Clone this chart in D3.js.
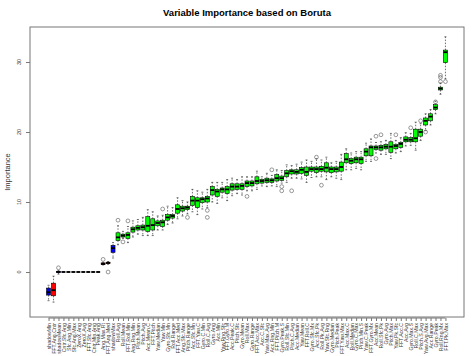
<!DOCTYPE html>
<html>
<head>
<meta charset="utf-8">
<script src="https://cdn.jsdelivr.net/npm/d3@7"></script>
<style>
  body { margin: 0; background: #fff; }
  svg { display: block; font-family: "Liberation Sans", Arial, sans-serif; }
</style>
</head>
<body>
<svg id="chart" width="474" height="356"></svg>
<script>
// attribute names, sorted by median importance
var names = [
  "shadowMin", "FFT.Ang.Cntr", "shadowMean", "Cntr.Sfc.Ang", "Sfc.Ang.Min", "Sfc.Ang.Max",
  "ZeroX.Ang", "ZeroX.Avg", "FFT.Sfc.Ang", "Cntr.Min.Ang", "Peak.Ang",
  "Ang.Max.Rt", "FFT.Ang.Med", "shadowMax", "Roll.Avg", "Roll.Mean", "FFT.Roll.Min",
  "Ang.Rng.Min", "Pitch.Mean", "Pitch.Avg", "Acc.Mean.C", "FFT.Pitch", "Yaw.Median",
  "Yaw.Min", "Gyro.Sfc.Mn", "Roll.Range", "FFT.Acc.Med", "Ang.Sfc.Max", "Pitch.Range",
  "Acc.Sfc.Mn", "FFT.Yaw.C", "Gyro.C.Min", "Roll.C.Avg", "Gyro.Ang", "Acc.Min",
  "Yaw.Rng.Sfc", "FFT.Gyro.M", "Acc.Peak.C", "Pitch.Sfc", "Gyro.Mean", "Roll.Max",
  "Gyro.Range", "FFT.Acc.Max", "Acc.C.Sfc", "Yaw.Max.Avg", "Acc.Rng.Min", "FFT.Pitch.M",
  "Gyro.Peak.S", "Roll.Sfc.Min", "Pitch.C.Avg", "Acc.Median", "Yaw.Mean", "FFT.Roll.C",
  "Gyro.Sfc.Mx", "Acc.Sfc.Pk", "Roll.Pk.Avg", "Yaw.Sfc.Rng", "Gyro.Median", "Pitch.Peak",
  "FFT.Yaw.Max", "Acc.Max.C", "Roll.Median", "Gyro.C.Max", "Pitch.Min.S", "Yaw.C.Peak",
  "FFT.Gyro.Mx", "Acc.Mean", "Roll.Sfc.Pk", "Gyro.Avg", "Pitch.Max", "Yaw.Pk.Sfc",
  "FFT.Acc.C", "Acc.Avg", "Gyro.Max.S", "Roll.C.Max", "Pitch.S.Avg", "Yaw.Avg.Max",
  "Acc.Range", "Gyro.Peak", "Roll.Rng.Mx", "FFT.Pk.Max"
];

// decision per attribute: S shadow, R rejected, C confirmed
var decision = ["S", "R", "S", "R", "R", "R", "R", "R", "R", "R", "R", "R", "R", "S"]
  .concat(d3.range(67).map(function () { return "C"; }));

var median = [-2.9, -2.6, 0, 0, 0, 0, 0, 0, 0, 0, 0, 1.15, 1.3, 3.4,
  4.95, 5.2, 5.3, 6.1, 6.3, 6.4, 6.6, 6.7, 7.0, 7.1, 7.8, 8.0, 9.0, 9.1, 9.2, 10.2,
  10.2, 10.4, 10.5, 11.7, 11.5, 11.8, 11.8, 12.2, 12.2, 12.3, 12.7, 12.7, 13.0, 13.0, 13.1,
  13.1, 13.4, 13.4, 14.1, 14.4, 14.3, 14.6, 14.3, 14.7, 14.7, 14.7, 14.9, 14.7, 14.7, 15.0,
  16.1, 15.9, 16.1, 16.1, 17.2, 17.8, 17.8, 17.8, 17.9, 17.9, 18.0, 18.3, 18.9, 18.9, 19.1,
  20.0, 21.6, 22.2, 23.5, 26.2, 31.4];

var q1 = [-3.3, -3.4, -0.1, 0, 0, 0, 0, 0, 0, 0, 0, 1.05, 1.2, 2.8,
  4.5, 5.0, 4.8, 5.7, 6.0, 6.0, 5.8, 6.0, 6.6, 6.5, 7.4, 7.7, 8.4, 8.7, 8.9, 9.5,
  9.2, 9.9, 10.0, 11.0, 10.8, 11.4, 11.2, 11.7, 11.8, 11.8, 12.2, 12.3, 12.6, 12.7, 12.8,
  12.8, 13.0, 13.1, 13.6, 14.0, 14.0, 14.1, 13.8, 14.4, 14.2, 14.4, 14.3, 14.2, 14.3, 14.4,
  15.6, 15.5, 15.6, 15.5, 16.6, 16.6, 17.5, 17.4, 17.6, 17.1, 17.6, 17.8, 18.6, 18.6, 18.6,
  19.4, 21.0, 21.6, 23.2, 26.0, 29.9];

var q3 = [-2.3, -1.6, 0.1, 0, 0, 0, 0, 0, 0, 0, 0, 1.3, 1.4, 3.8,
  5.6, 5.4, 5.6, 6.4, 6.6, 6.7, 7.9, 7.6, 7.3, 7.4, 8.2, 8.2, 9.6, 9.4, 9.4, 10.8,
  10.6, 10.6, 10.8, 12.2, 11.8, 12.0, 12.2, 12.6, 12.6, 12.6, 13.0, 13.0, 13.6, 13.2, 13.4,
  13.3, 13.9, 13.7, 14.5, 14.6, 14.6, 14.9, 15.0, 15.0, 15.0, 15.1, 15.6, 15.0, 15.0, 15.7,
  16.9, 16.2, 16.4, 16.4, 17.6, 18.0, 18.0, 18.1, 18.2, 18.6, 18.2, 18.5, 19.3, 19.2, 20.4,
  20.4, 22.0, 22.6, 23.9, 26.4, 31.7];

var lowWhisker = [-4.1, -4.3, -0.3, 0, 0, 0, 0, 0, 0, 0, 0, 1.0, 1.1, 2.0,
  3.9, 4.8, 4.2, 5.0, 5.4, 5.2, 5.2, 5.2, 6.0, 6.0, 6.8, 7.0, 7.6, 8.0, 8.3, 8.6,
  8.2, 9.0, 9.2, 10.0, 9.8, 10.6, 10.2, 10.9, 11.2, 11.0, 11.6, 11.6, 11.8, 12.3, 12.2,
  12.3, 12.2, 12.7, 12.8, 13.4, 13.4, 13.3, 12.8, 13.5, 13.6, 13.6, 13.2, 13.6, 13.4, 13.2,
  14.6, 14.6, 14.8, 14.6, 15.8, 15.8, 17.0, 16.8, 16.8, 16.2, 17.0, 17.2, 18.0, 18.1, 17.4,
  18.8, 20.2, 21.0, 22.6, 25.4, 27.6];

var highWhisker = [-1.9, -0.6, 0.2, 0, 0, 0, 0, 0, 0, 0, 0, 1.4, 1.5, 4.2,
  6.6, 5.8, 6.5, 7.3, 7.5, 7.8, 8.9, 8.6, 8.0, 8.1, 9.4, 9.2, 10.6, 10.2, 10.0, 11.8,
  11.6, 11.4, 11.8, 12.8, 12.8, 12.8, 13.2, 13.4, 13.2, 13.6, 13.6, 13.6, 14.4, 13.6, 14.1,
  13.8, 14.6, 14.5, 15.3, 15.2, 15.4, 15.7, 16.0, 15.8, 16.2, 16.0, 16.4, 15.6, 15.8, 16.8,
  17.6, 17.0, 17.2, 17.2, 18.4, 19.0, 18.5, 18.6, 18.8, 19.8, 18.8, 19.2, 19.9, 19.8, 21.4,
  21.2, 22.6, 23.2, 24.4, 27.0, 33.6];

// outlying runs: [attribute index, value]
var outliers = [
  [2, 0.6], [11, 1.8], [12, 0.0], [14, 7.4], [15, 4.3], [16, 7.3], [23, 9.0],
  [28, 7.8], [32, 8.8], [32, 7.8], [40, 10.8], [45, 14.6], [47, 12.2], [47, 11.6],
  [49, 11.6], [54, 16.4], [55, 12.4], [66, 19.4], [66, 16.2], [67, 19.6], [70, 19.6],
  [73, 20.6], [75, 21.6], [76, 20.0], [78, 24.3], [79, 27.2], [79, 27.8], [79, 28.1], [80, 27.2]
];

var yTicks = [0, 10, 20, 30];

var fillFor = { S: "#0000ff", R: "#ff0000", C: "#00ff00" };

var svg = d3.select("#chart");
var plotL = 30, plotR = 464, plotT = 27, plotB = 317;
var n = names.length;

// R style axis extension: 4% beyond [0.5, n + 0.5]
var ext = 0.04 * n;
var x = d3.scaleLinear().domain([0.5 - ext, n + 0.5 + ext]).range([plotL, plotR]);
var y = d3.scaleLinear().domain([-6.43, 35]).range([plotB, plotT]);
var bw = (x(1) - x(0)) * 0.8;

svg.append("text")
  .attr("x", 247).attr("y", 16)
  .attr("text-anchor", "middle")
  .attr("font-size", 9.5).attr("font-weight", "bold")
  .text("Variable Importance based on Boruta");

var g = svg.append("g");

names.forEach(function (name, i) {
  var cx = x(i + 1);
  var col = g.append("g");
  // whiskers
  col.append("line")
    .attr("x1", cx).attr("x2", cx)
    .attr("y1", y(q3[i])).attr("y2", y(highWhisker[i]))
    .attr("stroke", "#333").attr("stroke-width", 0.7).attr("stroke-dasharray", "1.5,1.5");
  col.append("line")
    .attr("x1", cx).attr("x2", cx)
    .attr("y1", y(q1[i])).attr("y2", y(lowWhisker[i]))
    .attr("stroke", "#333").attr("stroke-width", 0.7).attr("stroke-dasharray", "1.5,1.5");
  // staples
  [lowWhisker[i], highWhisker[i]].forEach(function (v) {
    col.append("line")
      .attr("x1", cx - bw / 4).attr("x2", cx + bw / 4)
      .attr("y1", y(v)).attr("y2", y(v))
      .attr("stroke", "#333").attr("stroke-width", 0.7);
  });
  // box
  col.append("rect")
    .attr("x", cx - bw / 2).attr("width", bw)
    .attr("y", y(q3[i])).attr("height", Math.max(0, y(q1[i]) - y(q3[i])))
    .attr("fill", fillFor[decision[i]])
    .attr("stroke", "#000").attr("stroke-width", 0.6);
  // median
  col.append("line")
    .attr("x1", cx - bw / 2).attr("x2", cx + bw / 2)
    .attr("y1", y(median[i])).attr("y2", y(median[i]))
    .attr("stroke", "#000").attr("stroke-width", 1.8);
});

g.selectAll("circle.out")
  .data(outliers)
  .enter().append("circle")
  .attr("class", "out")
  .attr("cx", function (d) { return x(d[0] + 1); })
  .attr("cy", function (d) { return y(d[1]); })
  .attr("r", 1.9)
  .attr("fill", "none").attr("stroke", "#555").attr("stroke-width", 0.6);

// frame
svg.append("rect")
  .attr("x", plotL).attr("y", plotT)
  .attr("width", plotR - plotL).attr("height", plotB - plotT)
  .attr("fill", "none").attr("stroke", "#777").attr("stroke-width", 1);

// y axis
var yAxis = svg.append("g").attr("transform", "translate(" + plotL + ",0)")
  .call(d3.axisLeft(y).tickValues(yTicks).tickSize(4).tickFormat(""));
yAxis.select(".domain").remove();
yAxis.selectAll("line").attr("stroke", "#777");

svg.selectAll("text.ytick")
  .data(yTicks)
  .enter().append("text")
  .attr("class", "ytick")
  .attr("transform", function (d) { return "translate(21," + y(d) + ")rotate(-90)"; })
  .attr("text-anchor", "middle")
  .attr("font-size", 5.5).attr("fill", "#333")
  .text(function (d) { return d; });

svg.append("text")
  .attr("transform", "translate(7," + ((plotT + plotB) / 2) + ")rotate(-90)")
  .attr("text-anchor", "middle")
  .attr("dy", "0.35em")
  .attr("font-size", 7.5).attr("fill", "#333")
  .text("Importance");

// x axis
var xAxis = svg.append("g").attr("transform", "translate(0," + (plotB + 1) + ")")
  .call(d3.axisBottom(x).tickValues(d3.range(1, n + 1)).tickSize(3)
    .tickFormat(function (d) { return names[d - 1]; }));
xAxis.select(".domain")
  .attr("d", "M" + x(1) + ",0H" + x(n))
  .attr("stroke", "#777");
xAxis.selectAll("line").attr("stroke", "#777");
xAxis.selectAll("text")
  .attr("font-size", 5.2).attr("fill", "#333")
  .attr("text-anchor", "end")
  .attr("transform", "rotate(-90)")
  .attr("x", -5).attr("y", 0).attr("dy", "0.35em");
</script>
</body>
</html>
